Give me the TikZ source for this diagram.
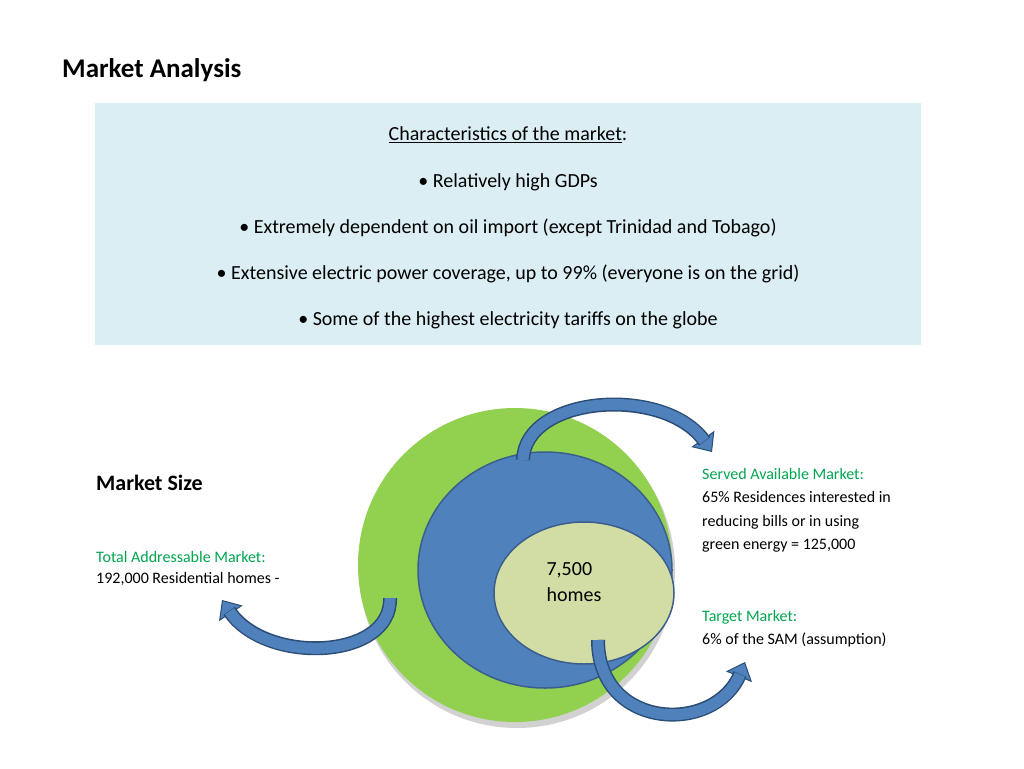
\documentclass[tikz,border=0pt]{standalone}
\usepackage{fontspec}
\setmainfont{Carlito}
\usetikzlibrary{arrows.meta}
\definecolor{boxbg}{HTML}{DBEEF4}
\definecolor{tgreen}{HTML}{00A550}
\definecolor{cgreen}{HTML}{92D050}
\definecolor{cblue}{HTML}{4F81BD}
\definecolor{dblue}{HTML}{2C4D75}
\definecolor{cpale}{HTML}{D1DDA4}
\definecolor{eline}{HTML}{3B5E8C}
\begin{document}
\begin{tikzpicture}[x=1pt,y=-1pt,
  lbl/.style={anchor=west,inner sep=0,font=\fontsize{16}{19}\selectfont,align=left},
  boxline/.style={inner sep=0,font=\fontsize{20}{24}\selectfont},
  tip/.style={draw=dblue,line width=1pt,-{Triangle[length=16pt,width=28pt,fill=cblue]}},
  shaftA/.style={draw=dblue,line width=14pt,shorten >=13pt},
  shaftB/.style={draw=cblue,line width=11pt,shorten >=13.5pt}]
\useasboundingbox (0,0) rectangle (1024,768);
\fill[white] (0,0) rectangle (1024,768);
\node[anchor=west,inner sep=0,font=\fontsize{27}{32}\selectfont\bfseries] (title) at (62,70) {Market Analysis};
\node[fill=boxbg,minimum width=826pt,minimum height=242pt,inner sep=0,anchor=north west] (box) at (95,103) {};
\node[boxline] (c0) at (508,135) {\underline{Characteristics of the market}:};
\node[boxline] (c1) at (508,182) {• Relatively high GDPs};
\node[boxline] (c2) at (508,228) {• Extremely dependent on oil import (except Trinidad and Tobago)};
\node[boxline] (c3) at (508,274) {• Extensive electric power coverage, up to 99\% (everyone is on the grid)};
\node[boxline] (c4) at (508,320) {• Some of the highest electricity tariffs on the globe};
% circles
\fill[black!18] (517,570) circle (158);
\fill[cgreen] (515,565) circle (157);
\filldraw[fill=cblue,draw=eline,line width=1.5pt] (545,570) ellipse (127 and 118);
\filldraw[fill=cpale,draw=eline,line width=1.5pt] (584,593) ellipse (90 and 71);
\node[inner sep=0,align=left,font=\fontsize{20}{26}\selectfont] (homes) at (574,582) {7,500\\homes};
% labels
\node[lbl,font=\fontsize{22}{26}\selectfont\bfseries] (ms) at (96,483) {Market Size};
\node[lbl,text=tgreen] (tam) at (96,557) {Total Addressable Market:};
\node[lbl] (tam2) at (96,579) {192,000 Residential homes -};
\node[lbl,text=tgreen] (sam) at (702,474) {Served Available Market:};
\node[lbl] (sam2) at (702,497) {65\% Residences interested in};
\node[lbl] (sam3) at (702,522) {reducing bills or in using};
\node[lbl] (sam4) at (702,546) {green energy = 125,000};
\node[lbl,text=tgreen] (tm) at (702,617) {Target Market:};
\node[lbl] (tm2) at (702,640) {6\% of the SAM (assumption)};
% arrows
\def\pA{(523,460) .. controls (525,395) and (665,385) .. (712,452)}
\def\pB{(390,598) .. controls (392,660) and (265,665) .. (222,600)}
\def\pC{(598,640) .. controls (598,730) and (715,735) .. (745,662)}
\foreach \p in {\pA,\pB,\pC}{
  \draw[tip] \p;
  \draw[shaftA] \p;
  \draw[shaftB] \p;
}
\end{tikzpicture}
\end{document}
